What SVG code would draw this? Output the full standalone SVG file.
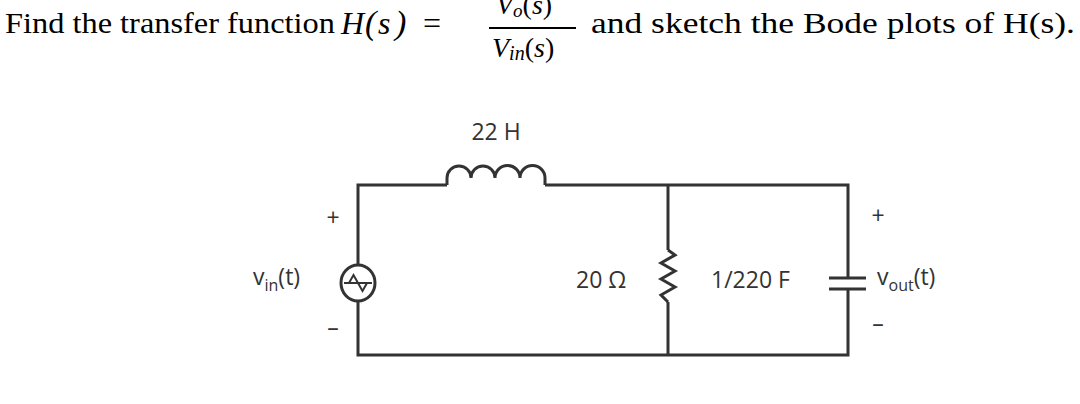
<svg xmlns="http://www.w3.org/2000/svg" width="1080" height="404" viewBox="0 0 1080 404">
<style>
.t{font-family:"Liberation Serif",serif;font-size:29px;fill:#000}
.m{font-family:"Liberation Serif",serif;font-style:italic;fill:#000}
.c{font-family:"Open Sans","Noto Sans",sans-serif;font-size:23px;fill:#333}
.w{stroke:#333;stroke-width:3;fill:none}
</style>
<rect width="1080" height="404" fill="#fff"/>
<g id="title">
<text class="t" x="5" y="33" textLength="330" lengthAdjust="spacingAndGlyphs">Find the transfer function</text>
<text class="m" x="341" y="34" font-size="32">H</text>
<text class="m" x="365" y="34" font-size="34" font-style="normal">(</text><text class="m" x="378" y="34" font-size="32">s</text><text class="m" x="395" y="34" font-size="34" font-style="normal">)</text>
<text x="423" y="34" font-family="Liberation Serif,serif" font-size="32">=</text>
<text class="m" x="496" y="14" font-size="28">V<tspan font-size="19" dy="3">o</tspan><tspan dy="-3" font-style="normal">(</tspan>s<tspan font-style="normal">)</tspan></text>
<line x1="489" y1="28" x2="576" y2="28" stroke="#000" stroke-width="2"/>
<text class="m" x="492" y="57" font-size="28">V<tspan font-size="20" dy="3">in</tspan><tspan dy="-3" font-style="normal">(</tspan>s<tspan font-style="normal">)</tspan></text>
<text class="t" x="591" y="33" textLength="484" lengthAdjust="spacingAndGlyphs">and sketch the Bode plots of H(s).</text>
</g>
<g id="wires">
<polyline class="w" points="447,185 358,185 358,265"/>
<polyline class="w" points="358,301 358,355 848,355 848,290"/>
<polyline class="w" points="545,185 848,185 848,277"/>
<line class="w" x1="668" y1="185" x2="668" y2="250"/>
<line class="w" x1="668" y1="302" x2="668" y2="355"/>
</g>
<g id="inductor"><path class="w" d="M447,185 V178 a12,12 0 0 1 24,0 a12,12 0 0 1 24,0 a12,12 0 0 1 25,0 a12,12 0 0 1 25,0 V185"/><text class="c" x="496" y="140" text-anchor="middle">22 H</text></g>
<g id="source"><ellipse class="w" cx="358" cy="283" rx="17" ry="18" stroke-width="2.5"/><path d="M344,283 H372 M349,283 L353.5,275 L358,283 L362.5,291 L367,283" fill="none" stroke="#333" stroke-width="2"/>
<text class="c" x="333" y="226" text-anchor="middle">+</text><text class="c" x="333" y="336" text-anchor="middle">–</text>
<text class="c" x="253" y="285">v<tspan font-size="16" dy="6">in</tspan><tspan dy="-6">(t)</tspan></text></g>
<g id="resistor"><polyline class="w" points="668,250 675,255 661,263 675,271 661,279 675,287 661,295 668,302"/><text class="c" x="576" y="288">20 Ω</text></g>
<g id="capacitor"><line class="w" x1="829" y1="278" x2="866" y2="278"/><line class="w" x1="829" y1="289" x2="866" y2="289"/>
<text class="c" x="711" y="288">1/220 F</text>
<text class="c" x="878" y="224" text-anchor="middle">+</text><text class="c" x="878" y="332" text-anchor="middle">–</text>
<text class="c" x="877" y="285">v<tspan font-size="16" dy="6">out</tspan><tspan dy="-6">(t)</tspan></text></g>
</svg>
